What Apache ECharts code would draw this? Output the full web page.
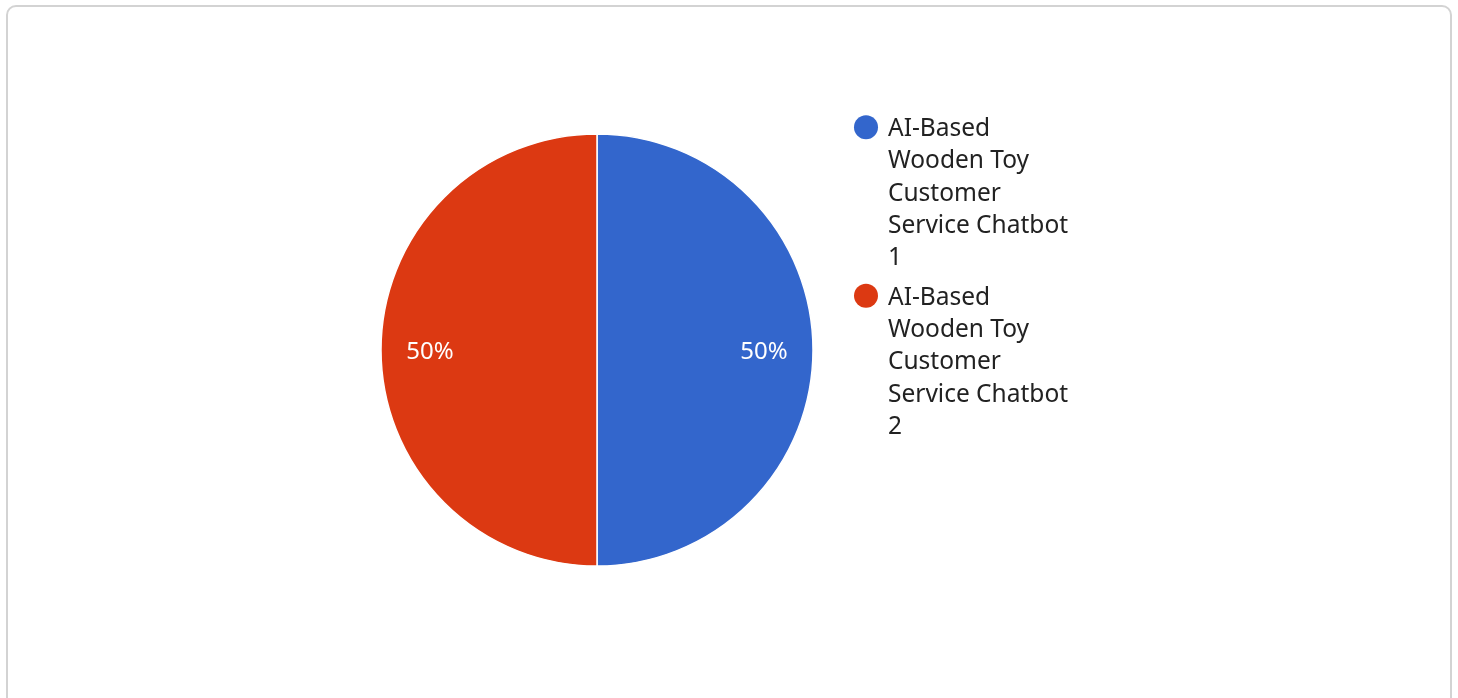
<!DOCTYPE html>
<html>
<head>
<meta charset="utf-8">
<script src="https://cdn.jsdelivr.net/npm/echarts@6/dist/echarts.min.js"></script>
<style>
  html, body { margin: 0; padding: 0; background: #fff; }
  .card {
    position: absolute; left: 6px; top: 5px; width: 1446px; height: 720px;
    box-sizing: border-box; border: 2px solid #d3d3d3; border-radius: 10px;
  }
  #chart { position: absolute; left: 0; top: 0; width: 1458px; height: 698px; }
</style>
</head>
<body>
<div class="card"></div>
<div id="chart"></div>
<script>
// data
const names = [
  'AI-Based Wooden Toy Customer Service Chatbot 1',
  'AI-Based Wooden Toy Customer Service Chatbot 2'
]
const values = [1, 1]
const colors = ['#3366cc', '#dc3912']

const d = names.map((n, i) => ({ value: values[i], name: n }))

// greedy word wrap for legend names
const ctx = document.createElement('canvas').getContext('2d')
ctx.font = '24.5px "Noto Sans"'
function wrap (text, maxW) {
  const words = text.split(' ')
  const lines = []
  let cur = ''
  words.forEach(w => {
    const t = cur ? cur + ' ' + w : w
    if (cur && ctx.measureText(t).width > maxW) {
      lines.push(cur)
      cur = w
    } else {
      cur = t
    }
  })
  if (cur) lines.push(cur)
  return lines.join('\n')
}

// circle on top of a tall invisible box so the dot lines up with the first text line
const legendIcon = 'path://M0,0 M0,14 A12,12 0 1,1 24,14 A12,12 0 1,1 0,14 Z M29,161'

const option = {
  color: colors,
  textStyle: { fontFamily: 'Noto Sans' },
  legend: {
    orient: 'vertical',
    left: 854,
    top: 113,
    padding: 0,
    itemGap: 7,
    itemWidth: 29,
    itemHeight: 161,
    icon: legendIcon,
    itemStyle: { borderWidth: 0 },
    formatter: name => wrap(name, 188),
    textStyle: {
      fontFamily: 'Noto Sans',
      fontSize: 24.5,
      lineHeight: 32.3,
      color: '#222'
    },
    selectedMode: false
  },
  series: [
    {
      type: 'pie',
      center: [597, 350],
      radius: 216,
      startAngle: 90,
      clockwise: true,
      silent: true,
      itemStyle: { borderColor: '#fff', borderWidth: 1.5 },
      label: { show: false },
      labelLine: { show: false },
      data: d
    },
    {
      // label ring only
      type: 'pie',
      center: [597, 350],
      radius: [112, 216],
      startAngle: 90,
      clockwise: true,
      silent: true,
      itemStyle: { color: 'rgba(0,0,0,0)' },
      label: {
        show: true,
        position: 'inside',
        formatter: '{d}%',
        color: '#fff',
        fontSize: 24,
        fontFamily: 'Noto Sans',
        offset: [0, 2]
      },
      labelLine: { show: false },
      data: d
    }
  ]
}

const myChart = echarts.init(document.getElementById('chart'))
myChart.setOption(option)
</script>
</body>
</html>
